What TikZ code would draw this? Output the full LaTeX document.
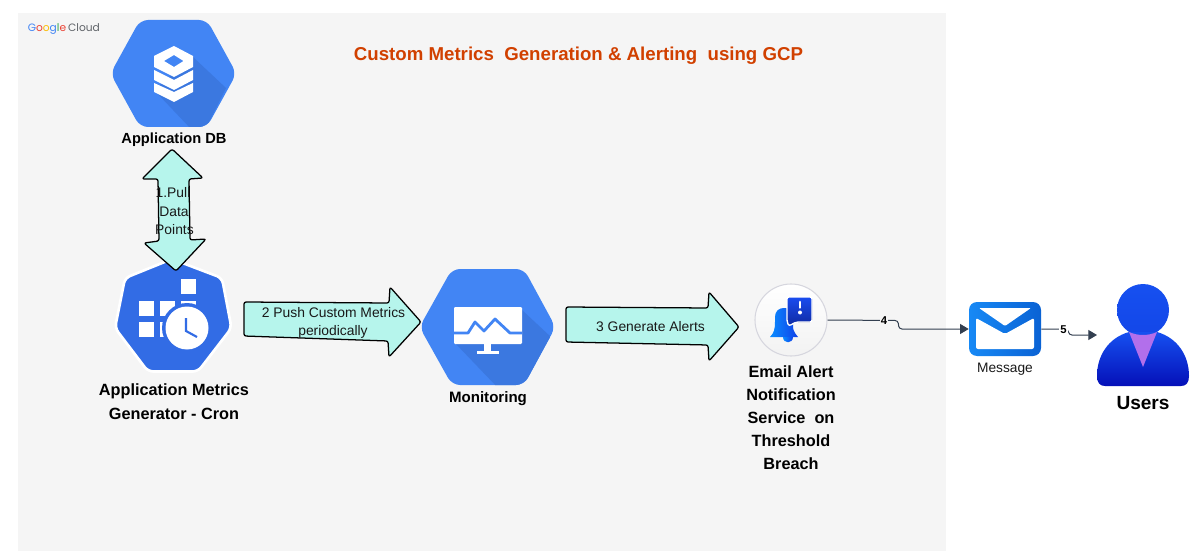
\documentclass[tikz,border=0pt]{standalone}
\usepackage{fontspec}
\setmainfont{Liberation Sans}
\newfontfamily\logofont{Poppins}
\usetikzlibrary{arrows.meta}
\definecolor{panel}{HTML}{F5F5F5}
\definecolor{gblue}{HTML}{4285F4}
\definecolor{gshadow}{HTML}{3B78E0}
\definecolor{kblue}{HTML}{326CE5}
\definecolor{mint}{HTML}{B6F5EC}
\definecolor{titlec}{HTML}{D14000}
\definecolor{connc}{HTML}{333F50}
\definecolor{purplec}{HTML}{B26FEB}
\definecolor{lgray}{HTML}{5F6368}
\definecolor{bellL}{HTML}{0A8CFF}
\definecolor{bellR}{HTML}{1040E8}
\definecolor{bubT}{HTML}{1A4CF0}
\definecolor{bubB}{HTML}{0F2AA0}
\definecolor{msgL}{HTML}{1789F5}
\definecolor{msgR}{HTML}{0A62D4}
\definecolor{userT}{HTML}{1650F0}
\definecolor{userB}{HTML}{0510B8}
\definecolor{ringc}{HTML}{D6D6DE}
\tikzset{
  x=0.75pt,y=-0.75pt,
  blockarrow/.style={draw=black,fill=mint,line width=0.95pt,rounded corners=1.6pt,line join=round},
  boldlabel/.style={font=\fontsize{12.2}{14}\selectfont\bfseries,text=black,inner sep=0pt,anchor=center},
  arrowtext/.style={font=\fontsize{10.4}{12}\selectfont,text=black!90,inner sep=0pt,anchor=center},
  conn/.style={draw=connc,line width=0.75pt,rounded corners=2.2pt,-{Triangle[length=6.5pt,width=7.5pt]}},
  connlabel/.style={font=\fontsize{8.5}{10}\selectfont\bfseries,text=black,inner sep=0.8pt},
  iconwhite/.style={fill=white,draw=none},
}
\begin{document}
\begin{tikzpicture}
\useasboundingbox (0,0) rectangle (1200,556);
\fill[white] (0,0) rectangle (1200,556);
\fill[panel] (18,13) rectangle (946,551);

% Logo
\node[anchor=west,inner sep=0pt,font=\logofont\fontsize{8}{10}\selectfont] (logo) at (27.5,28.5)
  {\textcolor[HTML]{4285F4}{G}\textcolor[HTML]{EA4335}{o}\textcolor[HTML]{FBBC05}{o}\textcolor[HTML]{4285F4}{g}\textcolor[HTML]{34A853}{l}\textcolor[HTML]{EA4335}{e}\hspace{1.5pt}\textcolor{lgray}{Cloud}};

% Title
\node[inner sep=0pt,font=\fontsize{14}{17}\selectfont\bfseries,text=titlec] (title) at (578.5,56)
  {Custom Metrics\ \ Generation \& Alerting\ \ using GCP};

% Application DB hexagon
\begin{scope}
\clip[rounded corners=6pt] (110.5,73.5) -- (140,20) -- (207,20) -- (236.5,73.5) -- (207,127) -- (140,127) -- cycle;
\fill[gblue] (100,10) rectangle (240,135);
\fill[gshadow] (193,57) -- (226,88) -- (205,130) -- (192,130) -- (154,90) -- cycle;
\end{scope}
\fill[iconwhite,even odd rule] (174,46) -- (193,56) -- (193,67) -- (174,77) -- (154,67) -- (154,56) -- cycle
  (174,55) -- (164,61) -- (174,67) -- (183.5,61) -- cycle;
\fill[iconwhite] (154,70) -- (174,80) -- (193,70) -- (193,80) -- (174,90) -- (154,80) -- cycle;
\fill[iconwhite] (154,83) -- (174,92) -- (193,83) -- (193,92) -- (174,102) -- (154,92) -- cycle;
\node[boldlabel,font=\fontsize{11}{14}\selectfont\bfseries] (dblabel) at (174,140) {Application DB};

% Cron heptagon
\filldraw[fill=kblue,draw=white,line width=2pt,rounded corners=4pt,line join=round]
  (172,259) -- (222,278) -- (231.5,328) -- (198,371.5) -- (148,371.5) -- (115,328) -- (125,278) -- cycle;
\fill[iconwhite] (139,301) rectangle (154,316);
\fill[iconwhite] (160,301) rectangle (175,316);
\fill[iconwhite] (139,322) rectangle (154,337);
\fill[iconwhite] (160,322) rectangle (175,337);
\fill[iconwhite] (181,279) rectangle (196,294);
\fill[iconwhite] (181,301) rectangle (196,316);
\fill[kblue] (187,328) circle[radius=25];
\fill[iconwhite] (187,328) circle[radius=21.5];
\draw[kblue,line width=1.6pt] (186,318) -- (186,331) -- (197,337);
\node[boldlabel] (cron1) at (174,391) {Application Metrics};
\node[boldlabel] (cron2) at (174,414) {Generator - Cron};

% Double arrow
\path[blockarrow] (172,149) -- (203,178) -- (189,179) -- (190,240) -- (206,239) -- (176,271)
  -- (144,243) -- (159,241) -- (158,179) -- (142,179) -- cycle;
\node[arrowtext] (pull1) at (173,192.5) {1.Pull};
\node[arrowtext] (pull2) at (174,211.5) {Data};
\node[arrowtext] (pull3) at (174.5,229.5) {Points};

% Arrow 2
\path[blockarrow] (244,302) -- (389,303) -- (390,287) -- (421,322) -- (389,357) -- (388,341) -- (244,336) -- cycle;
\node[arrowtext] (push1) at (333.5,312.5) {2 Push Custom Metrics};
\node[arrowtext] (push2) at (333,331.5) {periodically};

% Monitoring hexagon
\begin{scope}
\clip[rounded corners=6pt] (419.5,327) -- (452,269) -- (524,269) -- (555.5,327) -- (524,385) -- (452,385) -- cycle;
\fill[gblue] (415,260) rectangle (560,390);
\fill[gshadow] (522,310) -- (552,338) -- (527,390) -- (500,390) -- (455,343) -- cycle;
\end{scope}
\fill[iconwhite,rounded corners=0.8pt] (454,307) rectangle (522,344);
\fill[iconwhite] (484,344) rectangle (491,351);
\fill[iconwhite] (477,351) rectangle (499,353.5);
\draw[gblue,line width=2.1pt,line join=round] (454,333) -- (468,333) -- (475,322) -- (484,331) -- (495,319) -- (510,333) -- (522,333);
\node[boldlabel,font=\fontsize{11.3}{14}\selectfont\bfseries] (monlabel) at (488,398.5) {Monitoring};

% Arrow 3
\path[blockarrow] (566,307) -- (708,308) -- (709,292) -- (739,327) -- (709,361) -- (708,345) -- (566,342) -- cycle;
\node[arrowtext] (gen) at (650.5,326.5) {3 Generate Alerts};

% Alert
\node[circle,minimum size=54pt,inner sep=0pt,draw=ringc,line width=0.8pt,top color=white,bottom color=black!5] (alert) at (791,320) {};
\shade[left color=bellL,right color=bellR]
  (770,337) .. controls (774,333) and (775,329) .. (775,322) -- (775,317) .. controls (775,311) and (779,308) .. (784,308)
  .. controls (791,308) and (793,313) .. (793,320) -- (793,328) .. controls (794,332) and (796,335) .. (798,337) -- cycle;
\shade[left color=bellL,right color=bellR] (783,337) .. controls (783,344) and (793,344) .. (793,337) -- cycle;
\filldraw[draw=white,line width=1pt,top color=bubT,bottom color=bubB,rounded corners=1.5pt]
  (787,297) -- (812,297) -- (812,322) -- (796,322) -- (789,326) -- (787,322) -- cycle;
\draw[white,line width=2pt,line cap=round] (800,302) -- (800,307.5);
\fill[white] (800,312.5) circle[radius=2];
\node[boldlabel] (a1) at (791,372) {Email Alert};
\node[boldlabel] (a2) at (791,395) {Notification};
\node[boldlabel] (a3) at (791,418) {Service\ \ on};
\node[boldlabel] (a4) at (791,441) {Threshold};
\node[boldlabel] (a5) at (791,464) {Breach};

% Message
\node[rectangle,rounded corners=6pt,minimum width=54pt,minimum height=40.5pt,inner sep=0pt,
  left color=msgL,right color=msgR] (msg) at (1005,329) {};
\fill[iconwhite,rounded corners=0.8pt] (979,308) -- (1031,308) -- (1005,326) -- cycle;
\fill[iconwhite,rounded corners=1.5pt] (976,318) -- (1005,334) -- (1034,318) -- (1034,349) -- (976,349) -- cycle;
\node[inner sep=0pt,font=\fontsize{10.3}{12}\selectfont,text=black!90] (msglabel) at (1005,369.5) {Message};

% Users
\node[circle,minimum size=39pt,inner sep=0pt,top color=userT,bottom color=userT!85!userB] (head) at (1143,310) {};
\shade[top color=userT,bottom color=userB]
  (1129,332) .. controls (1108,338) and (1097,356) .. (1097,376) .. controls (1097,383) and (1100,386) .. (1105,386)
  -- (1181,386) .. controls (1186,386) and (1189,383) .. (1189,376) .. controls (1189,356) and (1178,338) .. (1157,332) -- cycle;
\fill[purplec] (1129,332) .. controls (1138,336) and (1148,336) .. (1157,332) -- (1143,367) -- cycle;
\node[inner sep=0pt,font=\fontsize{14.3}{17}\selectfont\bfseries] (userlabel) at (1143,403) {Users};
\coordinate (usertip) at (1097,335);

% Connectors
\coordinate (k4a) at (898,320.5);
\coordinate (k4b) at (899,329);
\draw[conn] (alert.east) -- (k4a) -- (k4b) -- (msg.west);
\node[connlabel,fill=panel] (l4) at (884,321) {4};
\coordinate (k5a) at (1068,329);
\coordinate (k5b) at (1069,335);
\draw[conn] (msg.east) -- (k5a) -- (k5b) -- (usertip);
\node[connlabel,fill=white] (l5) at (1063.5,329.5) {5};
\end{tikzpicture}
\end{document}
